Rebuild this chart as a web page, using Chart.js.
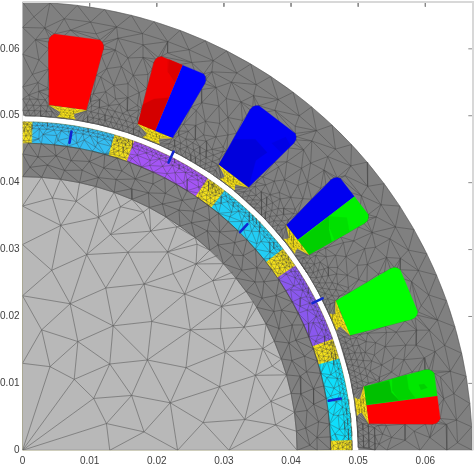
<!DOCTYPE html>
<html><head><meta charset="utf-8">
<style>html,body{margin:0;padding:0;background:#fff}canvas{display:block}</style>
<script src="https://cdn.jsdelivr.net/npm/chart.js@4/dist/chart.umd.min.js"></script>
</head><body><canvas id="c" width="474" height="465"></canvas>
<script>
// All lengths below are millimetres; the axes are in metres.
const xTicks=[0,0.01,0.02,0.03,0.04,0.05,0.06];
const yTicks=[0,0.01,0.02,0.03,0.04,0.05,0.06];
const tickLabels=['0','0.01','0.02','0.03','0.04','0.05','0.06'];
const xMax=0.0671,yMax=0.067;
const radii={stator:67,gapOuter:50,band:49.1,yoke:45.9,shaft:40.9};
const arcAngles=[0,3,6,9,12,15,18,21,24,27,30,33,36,39,42,45,48,51,54,57,60,63,66,69,72,75,78,81,84,87,90];
const magnetEdges=[[73.8,88.2],[55.8,70.2],[37.8,52.2],[19.8,34.2],[1.8,16.2]];
const magnetColors=['#34bdf2','#a455f5','#22cdf5','#8a58ee','#0fdefb'];
const spacerCentres=[90,72,54,36,18,0];
const slotAngles=[82.5,67.5,52.5,37.5,22.5,7.5];
const slotEdge=[[51.65,2.77],[54,3.1],[57,3.55],[60,3.95],[61,4.1],[61.6,4.05],[62,3.8],[62.3,3.4]];
const slotWhole=['#ff0000',null,'#0000f5',null,'#00ff00',null];
const slotHalves=[null,['#f00000','#0000ff'],null,['#0000f0','#00f000'],null,['#00e800','#ff0000']];
const tipOutline=[[51.65,2.85],[51.15,1.65],[50.85,1.0],[50.45,1.05],[50.1,1.35],[50.1,-1.35],[50.45,-1.05],[50.85,-1.0],[51.15,-1.65],[51.65,-2.85]];
const tipNodes=[[51.65,2.85],[51.65,1.9],[51.65,1],[51.65,0],[51.65,-1],[51.65,-1.9],[51.65,-2.85],[51.3,1.5],[51.25,.9],[51.3,.3],[51.25,-.4],[51.3,-1],[51.3,-1.5],[50.85,1],[50.9,.5],[50.85,0],[50.9,-.5],[50.85,-1],[50.45,1.05],[50.5,.45],[50.5,-.2],[50.45,-1.05],[50.1,1.35],[50.1,.5],[50.1,-.35],[50.1,-1.35]];
// slot index, colour, outline as [radius, offset] in that slot's own frame
const slotPatches=[
 [1,'#d40000',[[51.65,-2.77],[51.65,-.1],[57,-.1],[56,-2],[54.6,-3.2]]],
 [1,'#dc0000',[[59.5,-.1],[62.3,-.1],[62.3,-2.2],[60.5,-1.6]]],
 [2,'#0000dc',[[51.65,-2.77],[51.65,2.77],[55.5,1.2],[57.5,1.8],[58,-.8],[56,-3.3]]],
 [2,'#0000e6',[[59,1.5],[61,2.6],[60.4,3.9],[58.7,3.6]]],
 [3,'#00d000',[[51.65,.1],[51.65,2.77],[55.5,3.3],[56.3,1.6],[57.5,.1]]],
 [3,'#00e000',[[57.6,.1],[56.5,1.6],[56,3.3],[58.5,3.75],[59.5,1.8]]],
 [5,'#00c000',[[51.65,-2.77],[51.65,-.1],[56.6,-.1],[55.6,-1.4],[55.5,-3.2]]],
 [5,'#00d400',[[56.6,-.1],[59,-.1],[58.2,-1.6],[58.2,-3.7],[56,-3.3],[55.8,-1.6]]],
 [5,'#00d000',[[60,-1.2],[61,-1.4],[60.6,-2],[59.8,-2]]]
];
const arrows=[[[7,45.95],[7.3,47.65]],[[21.75,43],[22.5,44.65]],[[32.4,32.6],[33.5,33.8]],[[43.2,22],[44.7,22.7]],[[45.6,7.4],[47.4,7.75]]];
const statorRings=[
[67,[90,86.5,83,79.5,76,73,69.5,66,63,59.5,56.5,53,50,46.5,43,40,36.5,33,29.5,26,23,19.5,16,12.5,9.5,6,3,0]],
[64.8,[88.5,84.5,81,77.5,74,70.5,67.5,64,60.5,57.5,54,50.5,47.5,44,41,37.5,34.5,31,27.5,24.5,21,17.5,14,10.5,7.5,4,1]],
[63.2,[90,87,83.5,80,77,73.5,70,66.5,63.5,60.5,57,53.5,50,47,44,40.5,37,33.5,30,27,23.5,20,16.5,13.5,10,7,3.5,0]],
[61.4,[88.2,77,73,62,58,47,43,32,28,17,13]],
[60.7,[75,60,45,30,15,1.8]],
[59.2,[90,75.6,71.6,60.4,56.4,45.4,41.4,30.6,26.4,15.4,11.4,0]],
[58.4,[87.6,77.6,73.6,62.8,58.4,47.6,43.4,32.4,28.4,17.6,13.4,2.8]],
[57,[78.2,74,63,59,48,44,33,29,18,14,1.5]],
[56.2,[88.5,76,72,61,57,46,42,31,27,16,12]],
[55,[87.6,77,73.4,62,58.4,47,43.4,32,28.4,17,13.4,2]],
[54.3,[90,86,78.8,75.2,71.6,63.8,60.2,56.6,48.8,45.2,41.6,33.8,30.2,26.6,18.8,15.2,11.6,3.9,0]],
[53.7,[87.4,77.6,74.4,71.2,62.6,59.4,56.2,47.6,44.4,41.2,32.6,29.4,26.2,17.6,14.4,11.2,2.6]],
[53.1,[89,85.8,79,76,72.9,64,61,57.9,49,46,42.9,34,31,27.9,19,16,12.9,4,1]],
[52.5,[90,88.8,87.5,86.3,78.7,77.4,76.1,74.8,73.5,72.2,71,63.7,62.4,61.1,59.8,58.5,57.2,56,48.7,47.4,46.1,44.8,43.5,42.2,41,33.7,32.4,31.1,29.8,28.5,27.2,26,18.7,17.4,16.1,14.8,13.5,12.2,11,3.7,2.4,1.1,0]],
[51.6,[89.4,88.2,87,85.8,78.6,77.4,76.2,75,73.8,72.6,71.4,70.2,64,62.8,61.6,60.4,59.2,58,56.8,55.6,48.8,47.6,46.4,45.2,44,42.8,41.6,40.4,33.8,32.6,31.4,30.2,29,27.8,26.6,25.4,18.8,17.6,16.4,15.2,14,12.8,11.6,10.4,4,2.8,1.6,.4]],
[50.8,[90,89,88,87,86,85,79,78,77,76,75,74,73,72,71,70,64.5,63.5,62.5,61.5,60.5,59.5,58.5,57.5,56.5,55.5,49.5,48.5,47.5,46.5,45.5,44.5,43.5,42.5,41.5,40.5,34.5,33.5,32.5,31.5,30.5,29.5,28.5,27.5,26.5,25.5,19.5,18.5,17.5,16.5,15.5,14.5,13.5,12.5,11.5,10.5,4.5,3.5,2.5,1.5,.5]],
[50,[89.6,88.7,87.8,86.9,86,85.1,84.2,83.3,82.4,81.5,80.6,79.7,78.8,77.9,77,76.1,75.2,74.3,73.4,72.5,71.6,70.7,69.8,68.9,68,67.1,66.2,65.3,64.4,63.5,62.6,61.7,60.8,59.9,59,58.1,57.2,56.3,55.4,54.5,53.6,52.7,51.8,50.9,50,49.1,48.2,47.3,46.4,45.5,44.6,43.7,42.8,41.9,41,40.1,39.2,38.3,37.4,36.5,35.6,34.7,33.8,32.9,32,31.1,30.2,29.3,28.4,27.5,26.6,25.7,24.8,23.9,23,22.1,21.2,20.3,19.4,18.5,17.6,16.7,15.8,14.9,14,13.1,12.2,11.3,10.4,9.5,8.6,7.7,6.8,5.9,5,4.1,3.2,2.3,1.4,.5]]
];
const bandRings=[
[49.1,[89.7,88.9,88.1,87.3,86.5,85.7,84.9,84.1,83.3,82.5,81.7,80.9,80.1,79.3,78.5,77.7,76.9,76.1,75.3,74.5,73.7,72.9,72.1,71.3,70.5,69.7,68.9,68.1,67.3,66.5,65.7,64.9,64.1,63.3,62.5,61.7,60.9,60.1,59.3,58.5,57.7,56.9,56.1,55.3,54.5,53.7,52.9,52.1,51.3,50.5,49.7,48.9,48.1,47.3,46.5,45.7,44.9,44.1,43.3,42.5,41.7,40.9,40.1,39.3,38.5,37.7,36.9,36.1,35.3,34.5,33.7,32.9,32.1,31.3,30.5,29.7,28.9,28.1,27.3,26.5,25.7,24.9,24.1,23.3,22.5,21.7,20.9,20.1,19.3,18.5,17.7,16.9,16.1,15.3,14.5,13.7,12.9,12.1,11.3,10.5,9.7,8.9,8.1,7.3,6.5,5.7,4.9,4.1,3.3,2.5,1.7,.9,.1]],
[48.6,[89.2,88.3,87.4,86.5,85.6,84.7,83.8,82.9,82,81.1,80.2,79.3,78.4,77.5,76.6,75.7,74.8,73.9,73,72.1,71.2,70.3,69.4,68.5,67.6,66.7,65.8,64.9,64,63.1,62.2,61.3,60.4,59.5,58.6,57.7,56.8,55.9,55,54.1,53.2,52.3,51.4,50.5,49.6,48.7,47.8,46.9,46,45.1,44.2,43.3,42.4,41.5,40.6,39.7,38.8,37.9,37,36.1,35.2,34.3,33.4,32.5,31.6,30.7,29.8,28.9,28,27.1,26.2,25.3,24.4,23.5,22.6,21.7,20.8,19.9,19,18.1,17.2,16.3,15.4,14.5,13.6,12.7,11.8,10.9,10,9.1,8.2,7.3,6.4,5.5,4.6,3.7,2.8,1.9,1,.1]],
[48.1,[89.6,88.3,87,85.7,84.4,83.1,81.8,80.5,79.2,77.9,76.6,75.3,74,72.7,71.4,70.1,68.8,67.5,66.2,64.9,63.6,62.3,61,59.7,58.4,57.1,55.8,54.5,53.2,51.9,50.6,49.3,48,46.7,45.4,44.1,42.8,41.5,40.2,38.9,37.6,36.3,35,33.7,32.4,31.1,29.8,28.5,27.2,25.9,24.6,23.3,22,20.7,19.4,18.1,16.8,15.5,14.2,12.9,11.6,10.3,9,7.7,6.4,5.1,3.8,2.5,1.2]],
[47.3,[88.8,86.3,83.8,81.3,78.8,76.3,73.8,71.3,68.8,66.3,63.8,61.3,58.8,56.3,53.8,51.3,48.8,46.3,43.8,41.3,38.8,36.3,33.8,31.3,28.8,26.3,23.8,21.3,18.8,16.3,13.8,11.3,8.8,6.3,3.8,1.3]],
[46.6,[87,83.5,80,76.5,73,69.5,66,62.5,59,55.5,52,48.5,45,41.5,38,34.5,31,27.5,24,20.5,17,13.5,10,6.5,3]],
[45.9,[88.9,86.5,84.1,81.7,79.3,76.9,74.5,72.1,69.7,67.3,64.9,62.5,60.1,57.7,55.3,52.9,50.5,48.1,45.7,43.3,40.9,38.5,36.1,33.7,31.3,28.9,26.5,24.1,21.7,19.3,16.9,14.5,12.1,9.7,7.3,4.9,2.5,.1]]
];
const spacerNodes=[[46.3,-1.2],[46.3,-.2],[46.3,.9],[47,-1.5],[47,-.6],[47,.3],[47,1.2],[47.7,-1],[47.7,-.3],[47.7,.5],[47.7,1.4],[48.3,-1.4],[48.3,-.5],[48.3,.2],[48.3,1],[48.8,-.9],[48.8,-.2],[48.8,.6],[48.8,1.4]];
const yokeRings=[
[45.9,[88.9,86.5,84.1,81.7,79.3,76.9,74.5,72.1,69.7,67.3,64.9,62.5,60.1,57.7,55.3,52.9,50.5,48.1,45.7,43.3,40.9,38.5,36.1,33.7,31.3,28.9,26.5,24.1,21.7,19.3,16.9,14.5,12.1,9.7,7.3,4.9,2.5,.1]],
[44.3,[90,83.5,77,70.5,64,57.5,51,44.5,38,31.5,25,18.5,12,5.5]],
[43.9,[87,80.5,74,67.5,61,54.5,48,41.5,35,28.5,22,15.5,9,2.5,0]],
[42.8,[85,78,71,64,57,50,43,36,29,22,15,8,1]],
[42.3,[88.5,81.5,74.5,67.5,60.5,53.5,46.5,39.5,32.5,25.5,18.5,11.5,4.5]]
];
const shaftEdgeAngles=[90,86,82,78,74.5,70.5,66.5,62.5,58.5,55,51,47,43,39,35.5,31.5,27.5,23.5,19.5,16,12,8,4,0];
const shaftNodes=[[0,0],[12.5,4],[10.6,7.75],[7.7,10.6],[4.1,12.5],[0,13],[2.85,18],[0,23.1],[7.1,21.9],[8.25,16.25],[13.5,18.6],[13,12.9],[18.6,13.5],[16.25,8.2],[22,7.1],[18.1,2.75],[13,0],[23.1,0],[26.9,4.15],[30.75,0],[29.35,9.5],[24.35,12.35],[30.2,14.7],[25,18],[19.25,19.25],[18.1,24.85],[12.4,24.25],[24.15,23.35],[29.65,21.5],[29.5,18.2],[28.35,25.35],[25.85,27.85],[22.45,26.4],[21.6,29.65],[15.7,29.6],[9.55,29.25],[4.35,26.9],[0,30.75],[29.1,29.15],[31.35,26.65],[0,36.5],[4.45,37.7],[8,37.2],[11.35,34.8],[5.7,33.6],[14.6,36.4],[13.1,32.25],[19.1,32.75],[18,35.6],[23,33.4],[26,30.8],[34.7,11.2],[37,7.3],[33.1,4.6],[37.7,3.8],[33,18.4],[35.8,15.2],[34.4,22.2],[36.8,19.2],[33.2,28.4],[37.2,12.6]];

const MM=0.001,RAD=Math.PI/180;
const polar=(r,a)=>[r*Math.cos(a*RAD),r*Math.sin(a*RAD)];
const local=(A,r,t)=>[r*Math.cos(A*RAD)+t*Math.sin(A*RAD),r*Math.sin(A*RAD)-t*Math.cos(A*RAD)];
const toData=p=>({x:p[0]*MM,y:p[1]*MM});
const ringNodes=rings=>rings.flatMap(([r,as])=>as.map(a=>polar(r,a)));
const inPoly=(p,poly)=>{let c=false;for(let i=0,j=poly.length-1;i<poly.length;j=i++){const a=poly[i],b=poly[j];if((a[1]>p[1])!==(b[1]>p[1])&&p[0]<(b[0]-a[0])*(p[1]-a[1])/(b[1]-a[1])+a[0])c=!c;}return c;};

// Triangulate the hand-read mesh nodes to recover the element edges.
function meshEdges(nodes,keep){
  const pts=nodes.map((p,i)=>[p[0]+1e-5*((i*7)%13),p[1]+1e-5*((i*11)%17)]);
  const n=pts.length;pts.push([-900,-900],[1500,-900],[300,1500]);
  const circ=(a,b,c)=>{const[A,B,C]=[pts[a],pts[b],pts[c]];const d=2*(A[0]*(B[1]-C[1])+B[0]*(C[1]-A[1])+C[0]*(A[1]-B[1]));
    const sa=A[0]*A[0]+A[1]*A[1],sb=B[0]*B[0]+B[1]*B[1],sc=C[0]*C[0]+C[1]*C[1];
    const x=(sa*(B[1]-C[1])+sb*(C[1]-A[1])+sc*(A[1]-B[1]))/d,y=(sa*(C[0]-B[0])+sb*(A[0]-C[0])+sc*(B[0]-A[0]))/d;
    return {v:[a,b,c],x,y,r:(A[0]-x)**2+(A[1]-y)**2};};
  let tris=[circ(n,n+1,n+2)];
  for(let i=0;i<n;i++){const P=pts[i],e=new Map(),next=[];
    for(const t of tris){if((P[0]-t.x)**2+(P[1]-t.y)**2<t.r){const[a,b,c]=t.v;for(const[u,v]of[[a,b],[b,c],[c,a]]){const k=u<v?u+'_'+v:v+'_'+u;e.set(k,e.has(k)?null:[u,v]);}}else next.push(t);}
    for(const v of e.values())if(v)next.push(circ(v[0],v[1],i));
    tris=next;}
  const seen=new Set(),out=[];
  for(const t of tris){const[a,b,c]=t.v;for(const[u,v]of[[a,b],[b,c],[c,a]]){if(u>=n||v>=n)continue;const k=u<v?u+'_'+v:v+'_'+u;if(seen.has(k))continue;seen.add(k);
    const p=nodes[u],q=nodes[v];if(keep(p,q))out.push(toData(p),toData(q),{x:NaN,y:NaN});}}
  return out;
}
const mid=(p,q)=>[(p[0]+q[0])/2,(p[1]+q[1])/2];
const rad=p=>Math.hypot(p[0],p[1]);
const len=(p,q)=>Math.hypot(p[0]-q[0],p[1]-q[1]);

const layers=[];
const poly=(pts,color)=>layers.push({data:pts.map(toData),showLine:true,fill:'shape',backgroundColor:color,borderColor:color,borderWidth:.3,pointRadius:0,tension:0});
const lines=(data,color,w,extra)=>layers.push(Object.assign({data,showLine:true,fill:false,borderColor:color,borderWidth:w,pointRadius:0,tension:0,spanGaps:false},extra||{}));
const disk=(r,color)=>poly([[0,0],...arcAngles.map(a=>polar(r,a))],color);
const sector=(a0,a1,r0,r1,color)=>{const mids=arcAngles.filter(a=>a>a0&&a<a1);const as=[a0,...mids,a1];poly([...as.map(a=>polar(r1,a)),...as.slice().reverse().map(a=>polar(r0,a))],color);};

disk(radii.stator,'#808080');
disk(radii.gapOuter,'#ffffff');
disk(radii.band,'#f6e31c');
disk(radii.yoke,'#808080');
disk(radii.shaft,'#b8b8b8');
magnetEdges.forEach((e,i)=>sector(e[0],e[1],radii.yoke,radii.band,magnetColors[i]));

// meshes
const slotOutlines=slotAngles.map(A=>[...slotEdge.map(([r,t])=>local(A,r,t)),...slotEdge.slice().reverse().map(([r,t])=>local(A,r,-t))]);
const statorNodes=[...ringNodes(statorRings),...slotOutlines.flat()];
lines(meshEdges(statorNodes,(p,q)=>{const m=mid(p,q),r=rad(m);return r>49.9&&r<67.02&&len(p,q)<8&&p[0]>=-.01&&p[1]>=-.01;}),'#4a4a4a',.5);
const bandNodes=[...ringNodes(bandRings),...spacerCentres.flatMap(c=>spacerNodes.map(([r,d])=>polar(r,c+d)))];
lines(meshEdges(bandNodes,(p,q)=>{const r=rad(mid(p,q));return r>45.85&&r<49.12&&len(p,q)<4;}),'#3d3d3d',.35);
const yokeNodes=[...ringNodes(yokeRings),...shaftEdgeAngles.map(a=>polar(radii.shaft,a))];
lines(meshEdges(yokeNodes,(p,q)=>{const r=rad(mid(p,q));return r>40.85&&r<45.95;}),'#484848',.55);
const shaftAll=[...shaftNodes,...shaftEdgeAngles.map(a=>polar(radii.shaft,a))];
lines(meshEdges(shaftAll,(p,q)=>rad(mid(p,q))<40.9),'#5e5e5e',.6);

// slots
slotAngles.forEach((A,i)=>{
  if(slotWhole[i])poly(slotOutlines[i],slotWhole[i]);
  else{const half=sign=>[[51.65,0],...slotEdge.map(([r,t])=>[r,t*sign]),[62.3,0]].map(([r,t])=>local(A,r,t));
    poly(half(-1),slotHalves[i][0]);poly(half(1),slotHalves[i][1]);}
});
slotPatches.forEach(([i,c,o])=>poly(o.map(([r,t])=>local(slotAngles[i],r,t)),c));
slotAngles.forEach(A=>{
  const outline=tipOutline.map(([r,t])=>local(A,r,t));
  poly(outline,'#ffe818');
  lines(meshEdges(tipNodes.map(([r,t])=>local(A,r,t)),(p,q)=>inPoly(mid(p,q),outline)),'#6a6420',.35);
});
arrows.forEach(a=>lines(a.map(toData),'#1226d0',2.6,{borderCapStyle:'round'}));

// box ticks on the top and right, light frame
const tickLen=0.0007;
lines(xTicks.slice(1).flatMap(v=>[{x:v,y:yMax},{x:v,y:yMax-tickLen},{x:NaN,y:NaN}]),'#8a8a8a',1);
lines(yTicks.slice(1).flatMap(v=>[{x:xMax,y:v},{x:xMax-tickLen,y:v},{x:NaN,y:NaN}]),'#8a8a8a',1);
lines([{x:0,y:yMax},{x:xMax,y:yMax},{x:xMax,y:0}],'#d8d8d8',2,{clip:false});

const axisFont={family:'"Liberation Sans", Arial, sans-serif',size:10};
const noPad=s=>{s.paddingTop=0;s.paddingBottom=0;s.paddingLeft=0;s.paddingRight=0;};
new Chart(document.getElementById('c'),{
  type:'scatter',
  data:{datasets:layers.slice().reverse()},
  options:{
    responsive:false,animation:false,devicePixelRatio:1,
    layout:{padding:{top:2,right:1,left:0,bottom:0}},
    plugins:{legend:{display:false},tooltip:{enabled:false}},
    events:[],
    scales:{
      x:{type:'linear',min:0,max:xMax,grid:{display:false,drawTicks:false},border:{display:false},
        afterBuildTicks:s=>{s.ticks=xTicks.map(value=>({value}));},
        afterFit:s=>{s.height=14.7;noPad(s);},
        ticks:{autoSkip:false,maxRotation:0,color:'#404040',font:axisFont,padding:5,callback:(v,i)=>tickLabels[i]}},
      y:{type:'linear',min:0,max:yMax,grid:{display:false,drawTicks:false},border:{display:false},
        afterBuildTicks:s=>{s.ticks=yTicks.map(value=>({value}));},
        afterFit:s=>{s.width=22.5;noPad(s);},
        ticks:{autoSkip:false,color:'#404040',font:axisFont,padding:3,callback:(v,i)=>tickLabels[i]}}
    }
  }
});
</script></body></html>
